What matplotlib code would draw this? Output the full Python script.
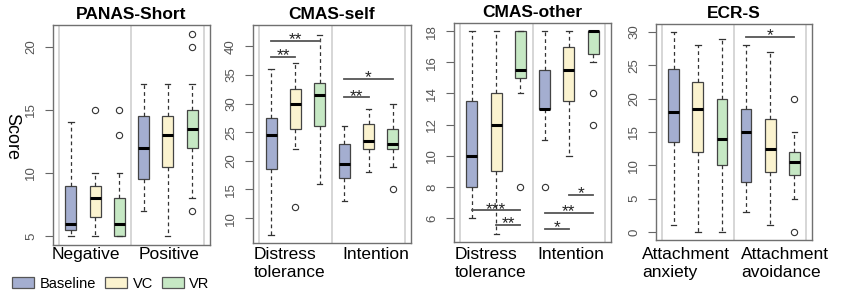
import matplotlib.pyplot as plt
import matplotlib.transforms as mtransforms
from matplotlib.patches import Patch

plt.rcParams['font.family'] = ['Liberation Sans', 'DejaVu Sans']

groups = ['Baseline', 'VC', 'VR']
colors = ['#A4AED0', '#FBF3CF', '#C6E8C4']

# box summaries: (whisker low, Q1, median, Q3, whisker high)
# order: first measure Baseline, VC, VR, then second measure Baseline, VC, VR
panas_stats = [(5, 5.5, 6, 9, 14), (5, 6.5, 8, 9, 10), (5, 5, 6, 8, 10),
               (7, 9.5, 12, 14.5, 17), (5, 10.5, 13, 14.5, 17), (8, 12, 13.5, 15, 17)]
panas_fliers = [[], [15], [13, 15], [], [], [7, 20, 21]]
panas_labels = ['Negative', 'Positive']
panas_sig = []

self_stats = [(7, 18.5, 24.5, 27.5, 36), (22, 25.5, 30, 32.5, 37), (16, 26, 31.5, 33.5, 42),
              (13, 17, 19.5, 23, 26), (18, 22, 23.5, 26.5, 29), (19, 22, 23, 25.5, 30)]
self_fliers = [[], [12], [], [], [], [15]]
self_labels = ['Distress\ntolerance', 'Intention']
self_sig = [(1, 2, 38.1, '**'), (1, 3, 40.9, '**'), (4, 5, 31.1, '**'), (4, 6, 34.3, '*')]

other_stats = [(6, 8, 10, 13.5, 18), (5, 9, 12, 14, 18), (14, 15, 15.5, 18, 18),
               (11, 13, 13, 15.5, 18), (10, 13.5, 15.5, 17, 18), (16, 16.5, 18, 18, 18)]
other_fliers = [[], [], [8], [8], [], [12, 14]]
other_labels = ['Distress\ntolerance', 'Intention']
other_sig = [(1, 3, 6.5, '***'), (2, 3, 5.57, '**'), (5, 6, 7.5, '*'),
             (4, 6, 6.32, '**'), (4, 5, 5.3, '*')]

ecr_stats = [(1, 13.5, 18, 24.5, 30), (0, 12, 18.5, 22.5, 28), (0, 10, 14, 20, 29),
             (3, 7.5, 15, 18.5, 28), (1, 9, 12.5, 17, 27), (5, 8.5, 10.5, 12, 15)]
ecr_fliers = [[], [], [], [], [], [0, 20]]
ecr_labels = ['Attachment\nanxiety', 'Attachment\navoidance']
ecr_sig = [(4, 6, 29.3, '*')]

fig = plt.figure(figsize=(8.42, 2.97), dpi=100)


def draw_panel(rect, title, stats, fliers, labels, label_x, sig, ylim, yticks):
    ax = fig.add_axes(rect)
    bstats = []
    for (lo, q1, med, q3, hi), fl in zip(stats, fliers):
        bstats.append(dict(whislo=lo, q1=q1, med=med, q3=q3, whishi=hi, fliers=fl))
    bp = ax.bxp(bstats, positions=[1, 2, 3, 4, 5, 6], widths=0.45, patch_artist=True,
                capwidths=0.22,
                boxprops=dict(edgecolor='#444444', linewidth=0.9),
                whiskerprops=dict(color='#333333', linewidth=0.9, linestyle=(0, (3, 2.5))),
                capprops=dict(color='#333333', linewidth=0.9),
                medianprops=dict(color='black', linewidth=2.2),
                flierprops=dict(marker='o', markerfacecolor='none', markeredgecolor='#333333',
                                markersize=4.5, markeredgewidth=0.8))
    for patch, c in zip(bp['boxes'], colors * 2):
        patch.set_facecolor(c)

    # group separators
    for x in [0.5, 3.5, 6.5]:
        ax.axvline(x, color='#cfcfcf', linewidth=1.2, zorder=0)

    # significance bars
    for x1, x2, y, s in sig:
        ax.plot([x1, x2], [y, y], color='#555555', linewidth=1.3)
        ax.annotate(s, ((x1 + x2) / 2, y), xytext=(0, -2.5), textcoords='offset points',
                    ha='center', va='baseline', fontsize=12.5, color='#222222')

    ax.set_xlim(0.26, 6.74)
    ax.set_ylim(*ylim)
    ax.set_xticks([])
    ax.set_yticks(yticks)
    ax.set_yticklabels([str(t) for t in yticks], rotation=90, va='center')
    ax.tick_params(axis='y', length=5.5, width=0.8, color='#666666', pad=6,
                   labelsize=9.5, labelcolor='#555555')
    for sp in ax.spines.values():
        sp.set_color('#707070')
        sp.set_linewidth(1.0)
    ax.set_title(title, fontsize=12.5, fontweight='bold', pad=4)

    trans = mtransforms.blended_transform_factory(ax.transData, fig.transFigure)
    for lab, x in zip(labels, label_x):
        fig.text(x, 0.168, lab, transform=trans, ha='left', va='top',
                 fontsize=12.5, linespacing=1.2)
    return ax


draw_panel([0.0629, 0.1751, 0.1865, 0.7407], 'PANAS-Short', panas_stats, panas_fliers,
           panas_labels, [0.21, 3.79], panas_sig, (4.3, 21.7), [5, 10, 15, 20])
draw_panel([0.3005, 0.1808, 0.1876, 0.735], 'CMAS-self', self_stats, self_fliers,
           self_labels, [0.29, 3.92], self_sig, (5.6, 43.7), [10, 15, 20, 25, 30, 35, 40])
draw_panel([0.5392, 0.1862, 0.1865, 0.7364], 'CMAS-other', other_stats, other_fliers,
           other_labels, [0.30, 3.71], other_sig, (4.48, 18.52), [6, 8, 10, 12, 14, 16, 18])
draw_panel([0.7791, 0.1919, 0.1853, 0.7273], 'ECR-S', ecr_stats, ecr_fliers,
           ecr_labels, [-0.32, 3.79], ecr_sig, (-1.2, 31.2), [0, 5, 10, 15, 20, 25, 30])

fig.text(0.014, 0.54, 'Score', rotation=-90, ha='center', va='center', fontsize=13)

handles = [Patch(facecolor=c, edgecolor='#555555', linewidth=0.9) for c in colors]
fig.legend(handles, groups, loc='lower left', bbox_to_anchor=(0.004, -0.008), ncol=3,
           frameon=False, fontsize=10.5, handlelength=1.5, handleheight=0.8,
           handletextpad=0.4, columnspacing=0.6, borderaxespad=0.2)

fig.savefig('out.png', dpi=100)
